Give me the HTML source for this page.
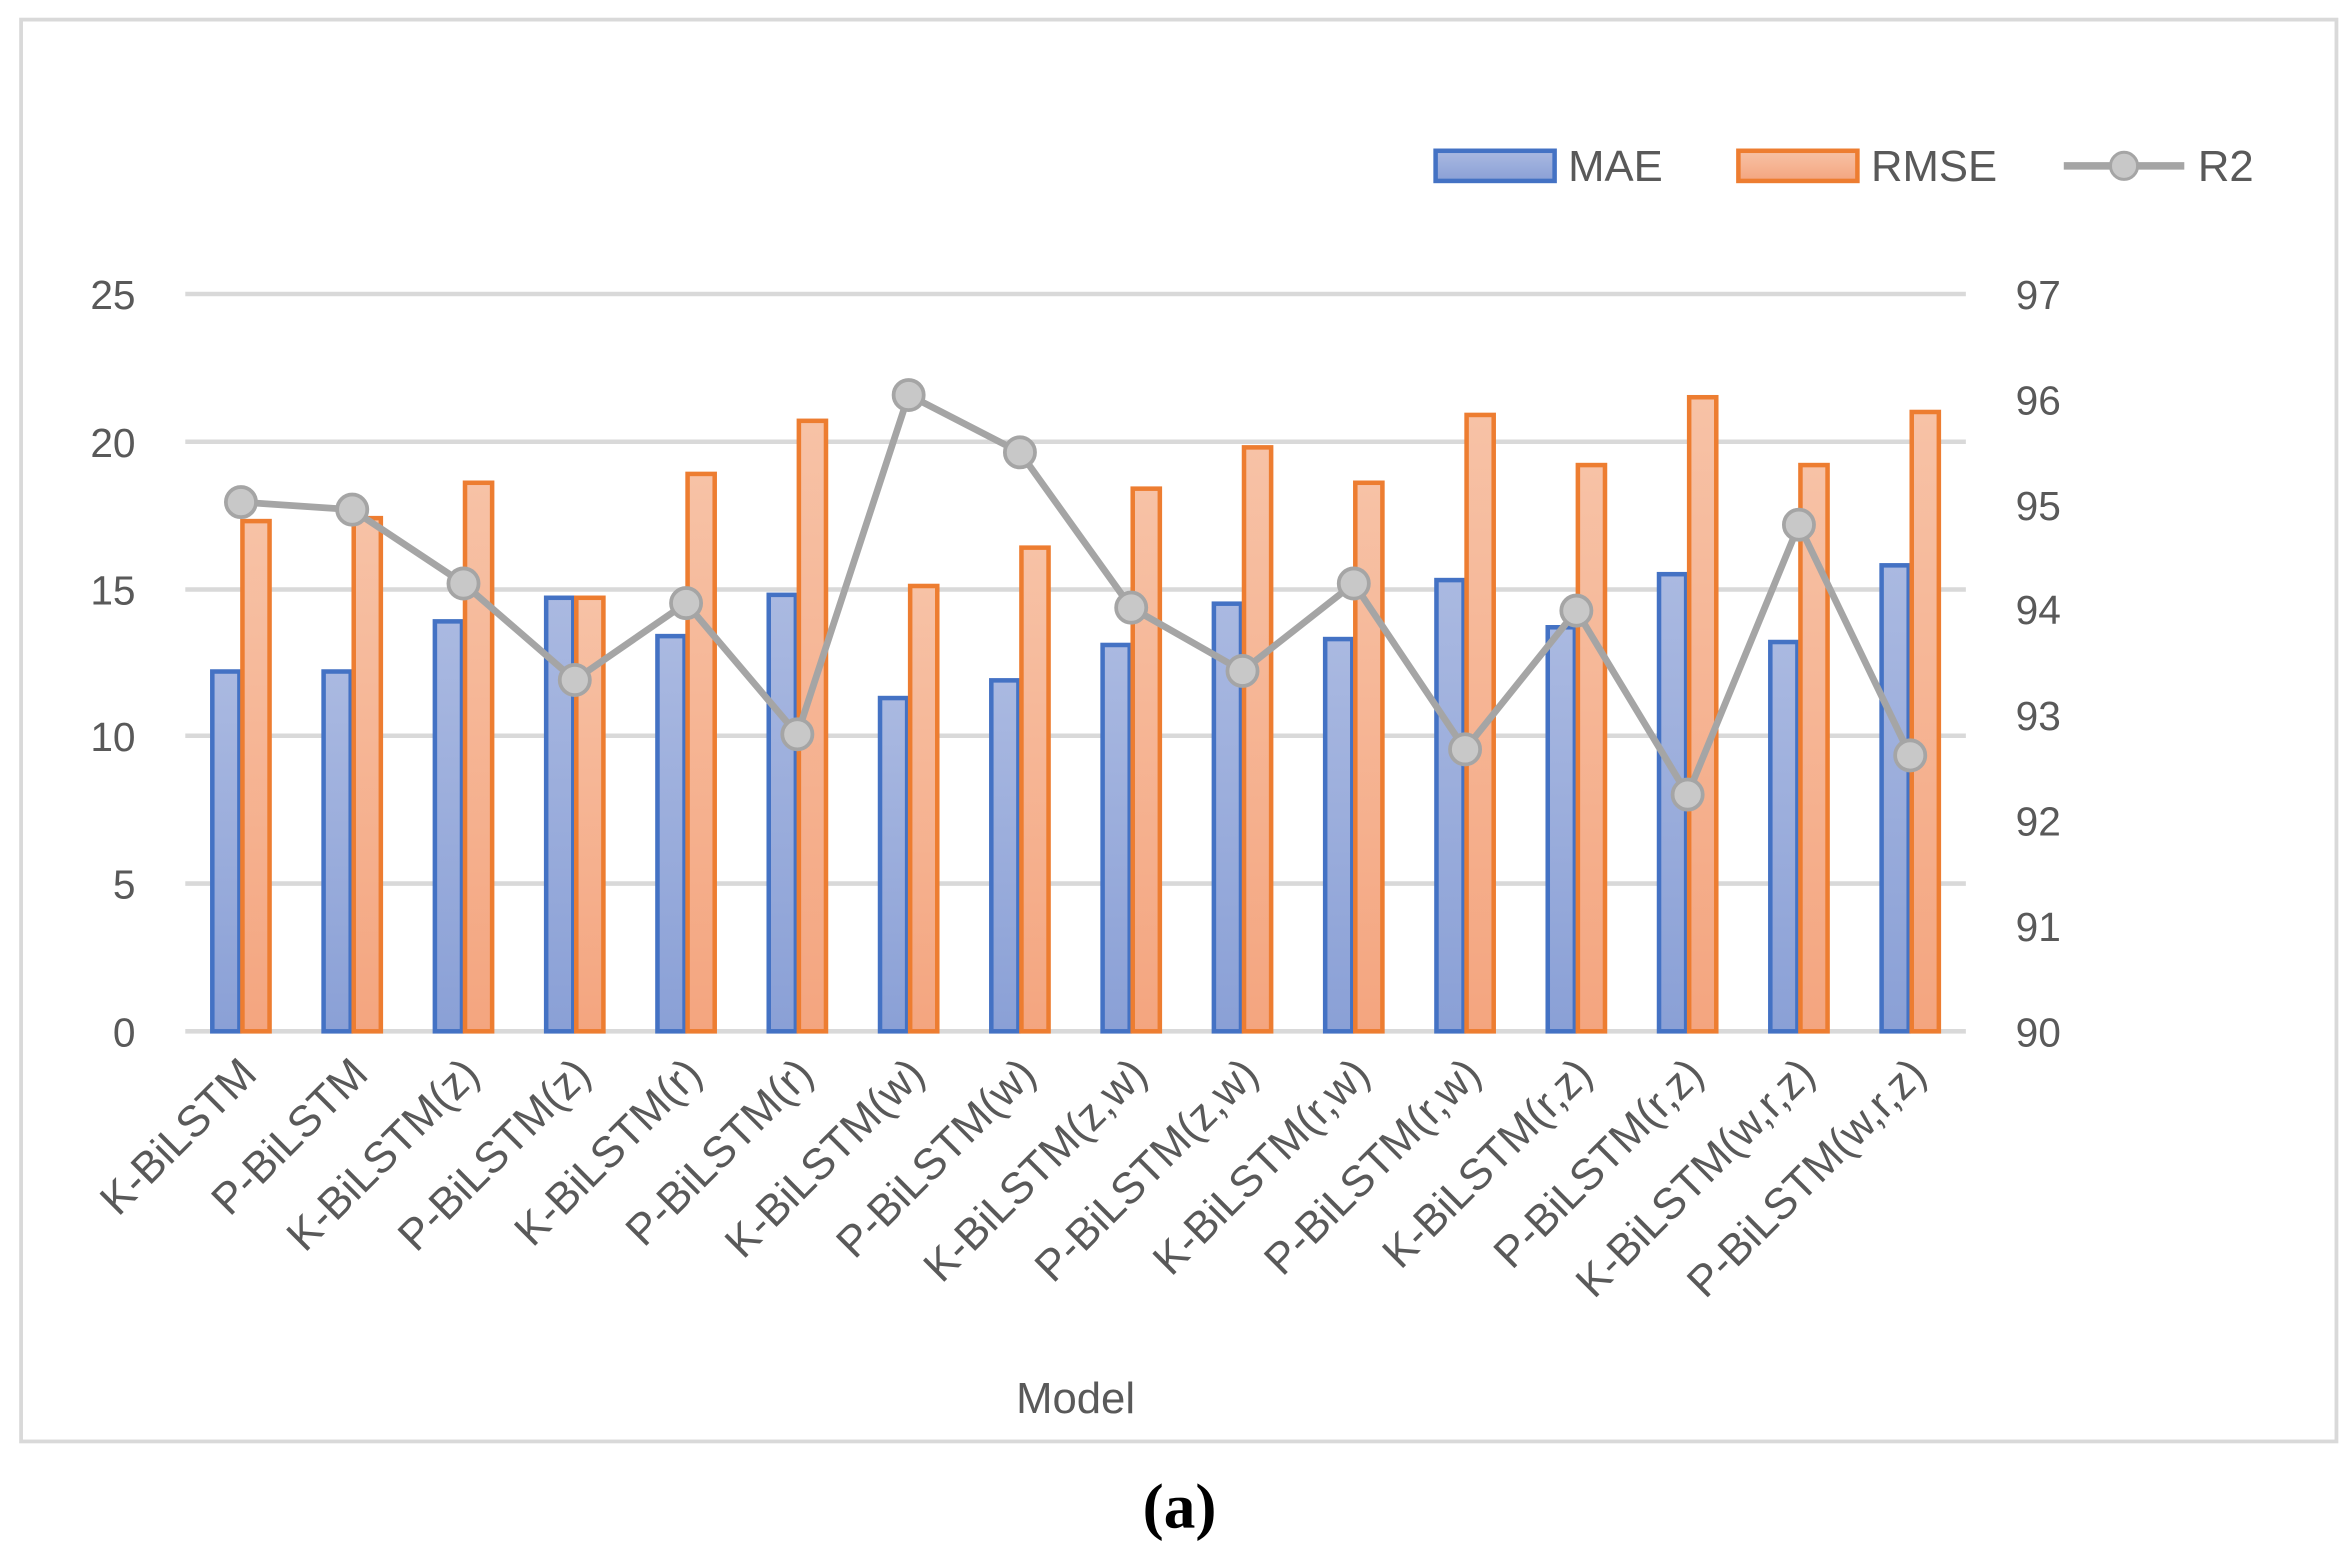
<!DOCTYPE html>
<html><head><meta charset="utf-8"><style>html,body{margin:0;padding:0;background:#fff}svg{display:block}</style></head>
<body>
<svg width="2350" height="1553" viewBox="0 0 1560 1030" preserveAspectRatio="none" xmlns="http://www.w3.org/2000/svg" font-family="'Liberation Sans', sans-serif">
<defs>
<linearGradient id="gb" x1="0" y1="0" x2="0" y2="1"><stop offset="0" stop-color="#aab9e1"/><stop offset="1" stop-color="#8aa0d6"/></linearGradient>
<linearGradient id="go" x1="0" y1="0" x2="0" y2="1"><stop offset="0" stop-color="#f7c2a6"/><stop offset="1" stop-color="#f4a57f"/></linearGradient>
</defs>
<rect x="14" y="13" width="1537" height="943" fill="#fff" stroke="#d9d9d9" stroke-width="2.5"/>
<g stroke="#d9d9d9" stroke-width="3">
<line x1="123" x2="1305" y1="195" y2="195"/><line x1="123" x2="1305" y1="293" y2="293"/>
<line x1="123" x2="1305" y1="391" y2="391"/><line x1="123" x2="1305" y1="488" y2="488"/>
<line x1="123" x2="1305" y1="586" y2="586"/><line x1="123" x2="1305" y1="684" y2="684"/>
</g>
<g fill="#595959" font-size="27" text-anchor="end">
<text x="90" y="205">25</text><text x="90" y="303">20</text><text x="90" y="401">15</text>
<text x="90" y="498">10</text><text x="90" y="596">5</text><text x="90" y="694">0</text>
</g>
<g fill="#595959" font-size="27">
<text x="1338" y="205">97</text><text x="1338" y="275">96</text><text x="1338" y="345">95</text>
<text x="1338" y="414">94</text><text x="1338" y="484">93</text><text x="1338" y="554">92</text>
<text x="1338" y="624">91</text><text x="1338" y="694">90</text>
</g>
<g id="bars"></g>
<g fill="#595959" font-size="29" id="xl"></g>
<text x="714" y="937" fill="#595959" font-size="29" text-anchor="middle">Model</text>
<g>
<rect x="953" y="100" width="79" height="20" fill="url(#gb)" stroke="#4472c4" stroke-width="3"/>
<text x="1041" y="120" fill="#595959" font-size="29">MAE</text>
<rect x="1154" y="100" width="79" height="20" fill="url(#go)" stroke="#ed7d31" stroke-width="3"/>
<text x="1242" y="120" fill="#595959" font-size="29">RMSE</text>
<line x1="1370" x2="1450" y1="110" y2="110" stroke="#a5a5a5" stroke-width="5"/>
<circle cx="1410" cy="110" r="9" fill="#c8c8c8" stroke="#a5a5a5" stroke-width="2"/>
<text x="1459" y="120" fill="#595959" font-size="29">R2</text>
</g>
<text x="783" y="1013" font-family="'Liberation Serif', serif" font-weight="bold" font-size="42" text-anchor="middle" fill="#000">(a)</text>
<script>
var names=["K-BiLSTM","P-BiLSTM","K-BiLSTM(z)","P-BiLSTM(z)","K-BiLSTM(r)","P-BiLSTM(r)","K-BiLSTM(w)","P-BiLSTM(w)","K-BiLSTM(z,w)","P-BiLSTM(z,w)","K-BiLSTM(r,w)","P-BiLSTM(r,w)","K-BiLSTM(r,z)","P-BiLSTM(r,z)","K-BiLSTM(w,r,z)","P-BiLSTM(w,r,z)"];
var mae=[12.2,12.2,13.9,14.7,13.4,14.8,11.3,11.9,13.1,14.5,13.3,15.3,13.7,15.5,13.2,15.8];
var rmse=[17.3,17.4,18.6,14.7,18.9,20.7,15.1,16.4,18.4,19.8,18.6,20.9,19.2,21.5,19.2,21.0];
var r2=[333,338,387,451,400,487,262,300,403,445,387,497,405,527,348,501];
var ns="http://www.w3.org/2000/svg",g=document.getElementById("bars"),xl=document.getElementById("xl");
function el(t,a,p){var e=document.createElementNS(ns,t);for(var k in a)e.setAttribute(k,a[k]);p.appendChild(e);return e;}
var step=1182/16,pts=[];
for(var i=0;i<16;i++){var cx=123+step*(i+0.5);
var h1=mae[i]*19.56,h2=rmse[i]*19.56;
el("rect",{x:cx-19,y:684-h1,width:18,height:h1,fill:"url(#gb)",stroke:"#4472c4","stroke-width":3},g);
el("rect",{x:cx+1,y:684-h2,width:18,height:h2,fill:"url(#go)",stroke:"#ed7d31","stroke-width":3},g);
pts.push(cx+","+r2[i]);
var t=el("text",{x:cx+12,y:714,"text-anchor":"end",transform:"rotate(-45 "+(cx+12)+" 714)"},xl);t.textContent=names[i];}
el("polyline",{points:pts.join(" "),fill:"none",stroke:"#a5a5a5","stroke-width":4.5,"stroke-linejoin":"round"},g);
for(var i=0;i<16;i++){var cx=123+step*(i+0.5);el("circle",{cx:cx,cy:r2[i],r:10,fill:"#c8c8c8",stroke:"#a5a5a5","stroke-width":2.5},g);}
</script>
</svg>
</body></html>
